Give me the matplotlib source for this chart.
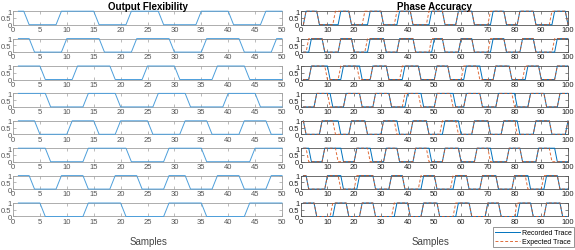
#!/usr/bin/env python3
import numpy as np
import matplotlib
matplotlib.use('Agg')
import matplotlib.pyplot as plt

plt.rcParams['font.family'] = ['Liberation Sans', 'DejaVu Sans']

# high intervals (first sample, last sample), samples numbered from 1
flex_n = 50
flex_highs = [
    [(1, 2), (9, 15), (22, 27), (35, 40), (47, 50)],
    [(1, 3), (10, 16), (23, 29), (36, 42), (49, 50)],
    [(1, 5), (12, 18), (25, 30), (38, 43)],
    [(1, 6), (14, 19), (27, 32), (40, 45)],
    [(1, 4), (11, 15), (20, 25), (32, 36), (43, 47)],
    [(1, 6), (14, 21), (29, 35), (45, 50)],
    [(1, 3), (9, 13), (19, 23), (29, 32), (38, 42), (48, 50)],
    [(1, 5), (14, 20), (29, 35), (44, 50)],
]

phase_n = 100
expected_highs = [
    [(2, 6), (13, 18), (24, 30), (36, 41), (48, 53), (59, 64), (71, 76), (82, 87), (94, 99)],
    [(3, 8), (15, 19), (25, 31), (37, 42), (49, 53), (60, 64), (71, 76), (83, 87), (95, 100)],
    [(4, 9), (15, 21), (27, 32), (38, 44), (51, 55), (61, 66), (73, 78), (84, 89), (96, 100)],
    [(6, 10), (17, 22), (28, 33), (39, 44), (51, 56), (62, 67), (74, 79), (86, 91), (97, 100)],
    [(1, 1), (8, 12), (19, 24), (31, 35), (42, 47), (53, 58), (65, 70), (76, 80), (88, 93), (100, 100)],
    [(1, 2), (9, 13), (21, 25), (32, 36), (43, 47), (54, 59), (66, 70), (78, 82), (89, 93)],
    [(1, 2), (10, 14), (21, 27), (34, 38), (45, 50), (57, 62), (68, 73), (80, 84), (91, 96)],
    [(1, 5), (12, 17), (23, 27), (35, 40), (46, 51), (58, 63), (70, 74), (81, 86), (92, 97)],
]
recorded_highs = [
    [(2, 6), (15, 18), (26, 30), (37, 41), (49, 53), (59, 64), (72, 76), (82, 87), (95, 99)],
    [(4, 8), (15, 19), (26, 31), (37, 42), (50, 53), (60, 64), (72, 76), (83, 87), (96, 100)],
    [(4, 10), (16, 22), (27, 32), (39, 44), (51, 55), (62, 67), (73, 78), (85, 89), (96, 100)],
    [(6, 11), (17, 22), (28, 33), (40, 45), (51, 57), (62, 67), (74, 80), (86, 91), (97, 100)],
    [(1, 1), (8, 14), (19, 24), (31, 36), (42, 47), (54, 59), (65, 70), (76, 81), (88, 93), (100, 100)],
    [(1, 3), (9, 15), (21, 26), (32, 36), (43, 48), (54, 59), (66, 71), (78, 82), (89, 95)],
    [(1, 2), (10, 15), (22, 27), (34, 38), (46, 50), (58, 62), (68, 73), (80, 85), (92, 96)],
    [(1, 5), (13, 17), (23, 27), (36, 40), (46, 51), (59, 63), (70, 74), (82, 86), (92, 97)],
]

blue = '#0072BD'
orange = '#D95319'
light_blue = '#4d9fdb'


def levels(n, highs):
    y = np.zeros(n)
    for a, b in highs:
        y[a - 1:b] = 1
    return y


def style(ax, xmax, step, spine_col, lab_col):
    ax.set_xlim(0, xmax)
    ax.set_ylim(0, 1)
    ax.set_xticks(np.arange(0, xmax + 1, step))
    ax.set_yticks([0, 0.5, 1])
    ax.set_yticklabels(['0', '0.5', '1'])
    ax.tick_params(direction='in', length=2, width=0.5, labelsize=5.5,
                   top=True, right=True, colors=spine_col, labelcolor=lab_col, pad=1)
    for s in ax.spines.values():
        s.set_color(spine_col)
        s.set_linewidth(0.6)


fig = plt.figure(figsize=(5.75, 2.51), dpi=100)
W, H = 575.0, 251.0
pitch = 27.4
ax_h = 13.5

xs_f = np.arange(1, flex_n + 1)
xs_p = np.arange(1, phase_n + 1)
handles = None
for i in range(8):
    top = 12.2 + pitch * i
    axl = fig.add_axes([13 / W, 1 - (top + ax_h) / H, 269 / W, ax_h / H])
    axl.plot(xs_f, levels(flex_n, flex_highs[i]), color=light_blue, lw=0.7,
             clip_on=False, zorder=3)
    style(axl, 50, 5, '#a0a0a0', '#555555')

    axr = fig.add_axes([300.7 / W, 1 - (top + ax_h) / H, 267.3 / W, ax_h / H])
    h1, = axr.plot(xs_p, levels(phase_n, recorded_highs[i]), color=blue, lw=0.7,
                   clip_on=False, zorder=3, label='Recorded Trace')
    h2, = axr.plot(xs_p, levels(phase_n, expected_highs[i]), color=orange, lw=0.7,
                   ls=(0, (3, 2)), clip_on=False, zorder=4, alpha=0.85,
                   label='Expected Trace')
    style(axr, 100, 10, '#555555', '#222222')
    if i == 0:
        axl.set_title('Output Flexibility', fontsize=7, fontweight='bold', pad=1.5)
        axr.set_title('Phase Accuracy', fontsize=7, fontweight='bold', pad=1.5)
        handles = [h1, h2]

fig.text(148 / W, 1 - 242 / H, 'Samples', ha='center', va='center', fontsize=7, color='#444444')
fig.text(430 / W, 1 - 242 / H, 'Samples', ha='center', va='center', fontsize=7, color='#444444')

leg = fig.legend(handles=handles, loc='upper right', bbox_to_anchor=(574 / W, 1 - 228 / H),
                 fontsize=5, handlelength=3.6, frameon=True, fancybox=False,
                 borderpad=0.3, labelspacing=0.3, handletextpad=0.3, borderaxespad=0)
leg.get_frame().set_edgecolor('#666666')
leg.get_frame().set_linewidth(0.6)

fig.savefig('out.png', dpi=100)
